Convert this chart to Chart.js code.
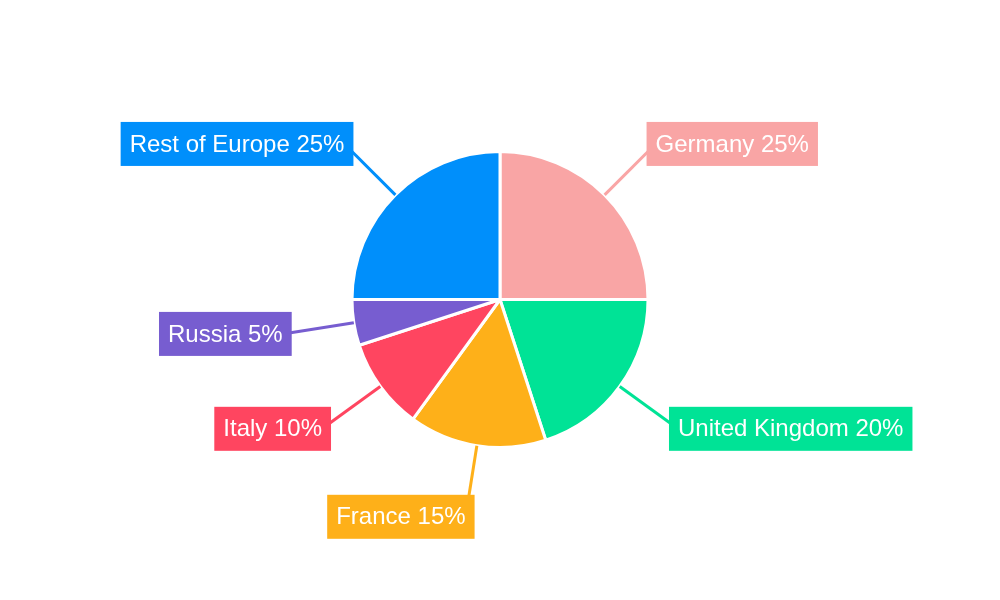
<!DOCTYPE html>
<html>
<head>
<meta charset="utf-8">
<script src="https://cdn.jsdelivr.net/npm/chart.js@4/dist/chart.umd.min.js"></script>
<style>
  body { margin: 0; background: #fff; }
  #wrap { width: 1000px; height: 600px; }
</style>
</head>
<body>
<div id="wrap"><canvas id="myChart" width="1000" height="600"></canvas></div>
<script>
const countries = ['Germany', 'United Kingdom', 'France', 'Italy', 'Russia', 'Rest of Europe']
const shares = [25, 20, 15, 10, 5, 25]
const colors = ['#F9A5A5', '#00E396', '#FEB019', '#FF4560', '#775DD0', '#008FFB']

// callout labels: leader line out from each slice, then a coloured box
const calloutPlugin = {
    id: 'callouts',
    afterDatasetsDraw(chart) {
        const ctx = chart.ctx
        const arcs = chart.getDatasetMeta(0).data
        ctx.save()
        ctx.font = '24px "Liberation Sans", Arial, sans-serif'
        ctx.textBaseline = 'middle'
        arcs.forEach((arc, i) => {
            const mid = (arc.startAngle + arc.endAngle) / 2
            const cos = Math.cos(mid), sin = Math.sin(mid)
            const r0 = arc.outerRadius
            const r1 = arc.outerRadius + 72
            const ax = arc.x + cos * r1
            const ay = arc.y + sin * r1
            ctx.strokeStyle = colors[i]
            ctx.lineWidth = 3
            ctx.beginPath()
            ctx.moveTo(arc.x + cos * r0, arc.y + sin * r0)
            ctx.lineTo(ax, ay)
            ctx.stroke()

            const text = countries[i] + ' ' + shares[i] + '%'
            const w = ctx.measureText(text).width + 18
            const h = 44
            const left = cos >= 0 ? ax - 9 : ax + 9 - w
            ctx.fillStyle = colors[i]
            ctx.fillRect(left, ay - h / 2, w, h)
            ctx.fillStyle = '#fff'
            ctx.textAlign = 'left'
            ctx.fillText(text, left + 9, ay + 1)
        })
        ctx.restore()
    }
}

const config = {
    type: 'pie',
    data: {
        labels: countries,
        datasets: [{
            data: shares,
            backgroundColor: colors,
            borderColor: '#fff',
            borderWidth: 3
        }]
    },
    options: {
        responsive: false,
        animation: false,
        layout: {
            padding: { top: 150, bottom: 151, left: 0, right: 0 }
        },
        plugins: {
            legend: { display: false },
            tooltip: { enabled: false }
        }
    },
    plugins: [calloutPlugin]
}

new Chart(document.getElementById('myChart'), config)
</script>
</body>
</html>
